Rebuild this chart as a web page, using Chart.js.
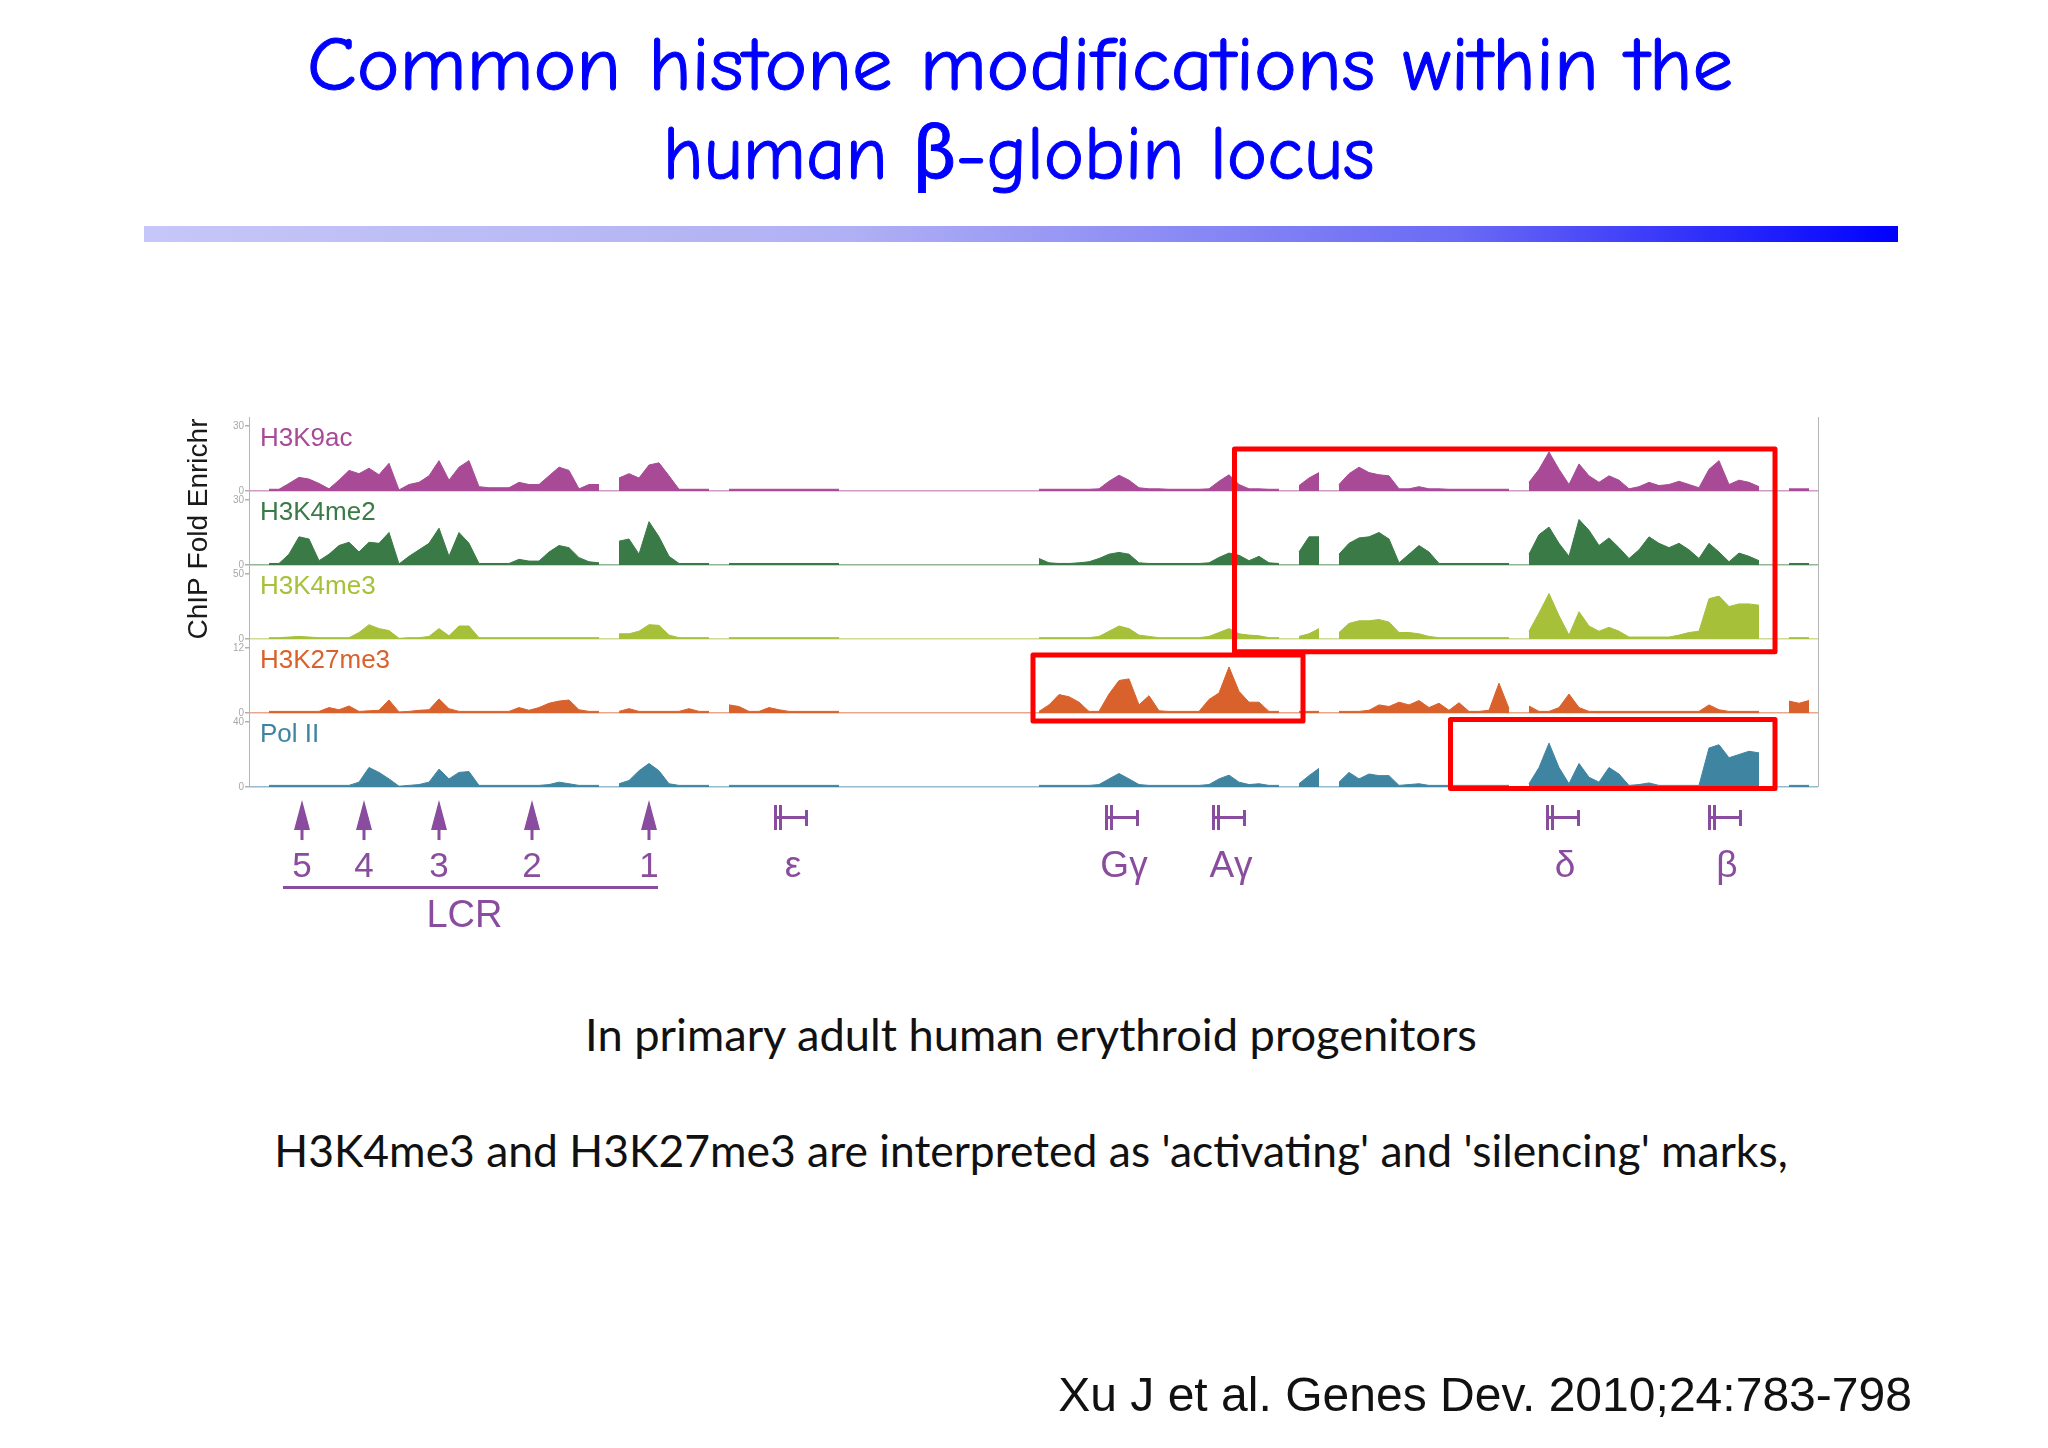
<!DOCTYPE html>
<html>
<head>
<meta charset="utf-8">
<script src="https://cdn.jsdelivr.net/npm/chart.js@4.4.1/dist/chart.umd.min.js"></script>
<style>
  html, body { margin: 0; padding: 0; background: #fff; }
  body { width: 2048px; height: 1448px; position: relative; overflow: hidden; }
  .txt { position: absolute; left: 0; width: 2048px; text-align: center; line-height: 1; white-space: nowrap; transform: translateY(-50%); }
  .txt span { display: inline-block; }
  .title { font-family: "Comic Sans MS", "Comic Neue", Lato, sans-serif; font-size: 77px; color: #0000ff; -webkit-text-stroke: 1px #0000ff; }
  .body { font-family: Lato, "Open Sans", sans-serif; font-size: 40px; color: #111; }
  .cite { font-family: "Liberation Sans", Arial, sans-serif; font-size: 48px; color: #111; text-align: right; width: 1912px; }
  .bar { position: absolute; left: 144px; top: 226px; width: 1754px; height: 16px;
         background: linear-gradient(to right, #c6c6f7 0%, #b0b0f4 40%, #6a6af5 75%, #0000ff 100%); }
  #tracks { position: absolute; left: 0; top: 380px; }
</style>
</head>
<body>
<div class="txt title" data-w="1426" data-fit="stretch" style="top:65px;left:-4px"><span>Common histone modifications within the</span></div>
<div class="txt title" data-w="712" data-fit="stretch" style="top:154px;left:-5px"><span>human β-globin locus</span></div>
<div class="bar"></div>
<canvas id="tracks" width="2048" height="600"></canvas>
<div class="txt body" data-w="892" style="top:1034px;left:7px"><span>In primary adult human erythroid progenitors</span></div>
<div class="txt body" data-w="1514" style="top:1150px;left:7px"><span>H3K4me3 and H3K27me3 are interpreted as 'activating' and 'silencing' marks,</span></div>
<div class="txt cite" data-w="854" style="top:1395px"><span>Xu J et al. Genes Dev. 2010;24:783-798</span></div>

<script>
// ChIP profiles, one value per 10 px bin along the locus (null = no data)
const tracks = ['H3K9ac', 'H3K4me2', 'H3K4me3', 'H3K27me3', 'Pol II'];
const trackMax = [30, 30, 50, 12, 40];
const trackColors = ['#a84a96', '#3a7a46', '#a6c03a', '#d9612b', '#3f84a0'];

const h3k9ac = [
  null, null, 0.8, 0.8, 3.5, 6.3, 5.5, 3.5, 1, 5,
  9.5, 8, 10.5, 7.5, 12.8, 0.5, 3, 4, 7, 14,
  5, 11, 14, 2, 1.5, 1.5, 1.5, 4, 3, 3,
  7, 11, 9.5, 1, 3, 3, null, 6, 8, 6,
  12, 13, 7, 0.8, 0.8, 0.8, 0.8, null, 0.8, 0.8,
  0.8, 0.8, 0.8, 0.8, 0.8, 0.8, 0.8, 0.8, 0.8, 0.8,
  null, null, null, null, null, null, null, null, null, null,
  null, null, null, null, null, null, null, null, null, 0.8,
  0.8, 0.8, 0.8, 0.8, 0.8, 1, 4.5, 7.3, 5, 1.5,
  1, 1, 0.8, 0.8, 0.8, 0.8, 1, 4.5, 7.5, 3,
  1, 1, 0.8, 0.8, null, 2.5, 6, 8.5, null, 3,
  8, 11, 8.5, 7.5, 7, 1, 1, 2, 1, 1,
  0.8, 0.8, 0.8, 0.8, 0.8, 0.8, 0.8, null, 4, 10,
  18, 10, 3, 12.5, 7, 4, 7, 5, 1, 2,
  4, 2.5, 3, 4.5, 3, 1.5, 10, 14, 3, 5,
  4, 2, null, null, 1, 1, 1
];
const h3k4me2 = [
  null, null, 0.7, 0.7, 5, 13, 12, 2, 5, 9,
  10.5, 6, 10.5, 10, 15, 0.5, 4, 7, 10, 17,
  4, 15, 10, 0.7, 0.7, 0.7, 0.7, 2.6, 1.8, 1.8,
  6, 9, 8, 3.4, 1.5, 1, null, 11, 12, 5,
  20, 13, 4, 0.7, 0.7, 0.7, 0.7, null, 0.7, 0.7,
  0.7, 0.7, 0.7, 0.7, 0.7, 0.7, 0.7, 0.7, 0.7, 0.7,
  null, null, null, null, null, null, null, null, null, null,
  null, null, null, null, null, null, null, null, null, 3,
  1, 0.7, 0.7, 1, 1.5, 3, 5, 5.8, 5, 1,
  0.7, 0.7, 0.7, 0.7, 0.7, 0.7, 1, 3.5, 5.5, 4.5,
  2, 4, 1, 0.7, null, 6, 13, 13, null, 5,
  10, 12.5, 13, 15, 12, 1, 5, 9, 6, 0.7,
  0.7, 0.7, 0.7, 0.7, 0.7, 0.7, 0.7, null, 5, 14,
  17.5, 10, 4, 21, 16, 9, 12.5, 8, 3, 7,
  13, 10, 8, 10, 7, 3, 10, 6, 1.5, 5.5,
  4, 2, null, null, 0.7, 0.7, 0.7
];
const h3k4me3 = [
  null, null, 1, 1, 1.5, 2, 1.5, 1, 1, 1,
  1, 5, 11, 8, 6.5, 0.5, 1, 1, 2, 8,
  2.5, 10, 10, 1, 1, 1, 1, 1, 1, 1,
  1, 1, 1, 1, 1, 1, null, 4, 4, 6,
  11, 10.5, 3, 1, 1, 1, 1, null, 1, 1,
  1, 1, 1, 1, 1, 1, 1, 1, 1, 1,
  null, null, null, null, null, null, null, null, null, null,
  null, null, null, null, null, null, null, null, null, 1,
  1, 1, 1, 1, 1, 2, 6, 10, 8, 3,
  2, 1, 1, 1, 1, 1, 2, 5, 8, 4,
  3, 2.5, 1, 1, null, 2, 4, 8, null, 5,
  12, 14, 14, 15, 13, 5, 5, 4, 2, 1,
  1, 1, 1, 1, 1, 1, 1, null, 6, 20,
  35, 18, 3, 21, 10, 6, 9, 6, 1.5, 1.5,
  1.5, 1.5, 1.5, 3, 5, 6, 31, 33, 25, 27,
  27, 26, null, null, 1, 1, 1
];
const h3k27me3 = [
  null, null, 0.3, 0.3, 0.3, 0.3, 0.3, 0.3, 1, 0.6,
  1.3, 0.3, 0.4, 0.5, 2.4, 0.2, 0.3, 0.5, 0.6, 2.6,
  0.8, 0.3, 0.3, 0.3, 0.3, 0.3, 0.3, 1, 0.5, 1,
  1.8, 2.2, 2.4, 0.6, 0.3, 0.3, null, 0.3, 0.8, 0.3,
  0.3, 0.3, 0.3, 0.3, 0.8, 0.3, 0.3, null, 1.5, 1.2,
  0.3, 0.3, 1, 0.6, 0.3, 0.3, 0.3, 0.3, 0.3, 0.3,
  null, null, null, null, null, null, null, null, null, null,
  null, null, null, null, null, null, null, null, null, 0.3,
  1.5, 3.4, 3, 2, 0.3, 0.3, 3.5, 6, 6.3, 1.5,
  3.2, 0.4, 0.3, 0.3, 0.3, 0.3, 2.5, 3.7, 8.5, 4,
  2, 2, 0.3, 0.3, null, 0.3, 0.3, 0.3, null, 0.3,
  0.3, 0.3, 0.5, 1.5, 1.2, 2, 1.5, 2.3, 1, 1.8,
  0.5, 1.9, 0.3, 0.3, 0.5, 5.5, 0.8, null, 1.3, 0.3,
  0.3, 1, 3.5, 1, 0.3, 0.3, 0.3, 0.3, 0.3, 0.3,
  0.3, 0.3, 0.3, 0.3, 0.3, 0.3, 1.5, 0.6, 0.3, 0.3,
  0.3, 0.3, null, null, 2.2, 1.8, 2.3
];
const polII = [
  null, null, 1, 1, 1, 1, 1, 1, 1, 1,
  1, 3, 12, 9, 5, 0.5, 1, 1.5, 3, 11,
  5, 9, 9.5, 1, 1, 1, 1, 1, 1, 1,
  1.5, 3, 2, 1, 1, 1, null, 2, 4, 10,
  14.5, 10, 2, 1, 1, 1, 1, null, 1, 1,
  1, 1, 1, 1, 1, 1, 1, 1, 1, 1,
  null, null, null, null, null, null, null, null, null, null,
  null, null, null, null, null, null, null, null, null, 1,
  1, 1, 1, 1, 1, 1.5, 5, 8.3, 5, 1.5,
  1, 1, 1, 1, 1, 1, 1.5, 5, 7.3, 3,
  1.5, 2, 1, 1, null, 2, 7, 11.5, null, 3,
  9, 5, 8, 7, 7, 1, 1.5, 2, 1, 1,
  1, 1, 1, 1, 1, 1, 1, null, 2, 12,
  27, 12, 2, 14.5, 6, 3, 12, 8, 1, 1.5,
  2.5, 1, 1, 1, 1, 1, 24, 26, 18, 20,
  22, 21, null, null, 1, 1, 1
];

// annotations along the same bin axis
const hsLabels = ['5', '4', '3', '2', '1'];
const hsPos = [5.3, 11.5, 19, 28.3, 40];
const lcrSpan = [3.4, 40.9];
const geneLabels = ['ε', 'Gγ', 'Aγ', 'δ', 'β'];
const genePos = [54.2, 87.3, 98, 131.4, 147.6];
// highlighted regions: bin range, top and bottom as [track, value]
const boxes = [
  { from: 98.55, to: 152.6, top: [0, 19.4], bottom: [3, 11.3] },
  { from: 78.4, to: 105.4, top: [3, 10.7], bottom: [4, 40.6] },
  { from: 120.15, to: 152.6, top: [4, 41.5], bottom: [4, -0.9] }
];

const FONT = '"Liberation Sans", Arial, sans-serif';
const PURPLE = '#8a4c9e';
const series = [h3k9ac, h3k4me2, h3k4me3, h3k27me3, polII];

function fade(hex, a) {
  const n = parseInt(hex.slice(1), 16);
  return `rgba(${n >> 16}, ${(n >> 8) & 255}, ${n & 255}, ${a})`;
}

// stacked left axes: the one defined last ends up on top, so go bottom-up
const scales = { x: { type: 'linear', min: 0, max: 156.9, display: false } };
for (let i = series.length - 1; i >= 0; i--) {
  scales['y' + i] = {
    type: 'linear',
    position: 'left',
    stack: 'tracks',
    stackWeight: 1,
    min: 0,
    max: trackMax[i] * 74 / 65,
    afterBuildTicks: s => { s.ticks = [{ value: 0 }, { value: trackMax[i] }]; },
    afterFit: s => { s.width = 20; },
    grid: {
      color: c => (c.tick && c.tick.value === 0) ? fade(trackColors[i], 0.55) : 'rgba(0,0,0,0)',
      lineWidth: 1.5,
      tickLength: 4,
      tickColor: '#b0b0b0'
    },
    border: { display: true, color: '#b5b5b5', width: 1 },
    ticks: { font: { family: FONT, size: 10 }, color: '#a8a8a8', padding: 1, autoSkip: false }
  };
}

const overlay = {
  id: 'overlay',
  afterDatasetsDraw(chart) {
    const ctx = chart.ctx;
    const x = chart.scales.x;
    const area = chart.chartArea;
    const yOf = (t, v) => chart.scales['y' + t].getPixelForValue(v);
    ctx.save();

    // right frame
    ctx.strokeStyle = '#b5b5b5';
    ctx.lineWidth = 1;
    ctx.beginPath();
    ctx.moveTo(area.right + 0.5, area.top);
    ctx.lineTo(area.right + 0.5, area.bottom);
    ctx.stroke();

    // track names
    ctx.font = '26px ' + FONT;
    ctx.textAlign = 'left';
    ctx.textBaseline = 'alphabetic';
    tracks.forEach((name, i) => {
      ctx.fillStyle = trackColors[i];
      ctx.fillText(name, area.left + 11, chart.scales['y' + i].top + 29);
    });

    // y axis title
    ctx.save();
    ctx.translate(199, 149);
    ctx.rotate(-Math.PI / 2);
    ctx.font = '28px ' + FONT;
    ctx.fillStyle = '#1a1a1a';
    ctx.textAlign = 'center';
    ctx.textBaseline = 'middle';
    ctx.fillText('ChIP Fold Enrichr', 0, 0);
    ctx.restore();

    // highlighted regions
    ctx.strokeStyle = '#ff0000';
    ctx.lineWidth = 5;
    ctx.lineJoin = 'round';
    boxes.forEach(b => {
      const x0 = x.getPixelForValue(b.from), x1 = x.getPixelForValue(b.to);
      const y0 = yOf(b.top[0], b.top[1]), y1 = yOf(b.bottom[0], b.bottom[1]);
      ctx.strokeRect(x0, y0, x1 - x0, y1 - y0);
    });

    // LCR hypersensitive sites
    const base = area.bottom;
    ctx.fillStyle = PURPLE;
    ctx.textAlign = 'center';
    ctx.font = '35px ' + FONT;
    hsPos.forEach((p, i) => {
      const cx = x.getPixelForValue(p);
      ctx.beginPath();
      ctx.moveTo(cx, base + 13);
      ctx.lineTo(cx + 8, base + 43);
      ctx.lineTo(cx - 8, base + 43);
      ctx.closePath();
      ctx.fill();
      ctx.fillRect(cx - 1.5, base + 40, 3, 13);
      ctx.fillText(hsLabels[i], cx, base + 90);
    });
    const l0 = x.getPixelForValue(lcrSpan[0]), l1 = x.getPixelForValue(lcrSpan[1]);
    ctx.fillRect(l0, base + 99, l1 - l0, 3);
    ctx.font = '38px ' + FONT;
    ctx.fillText('LCR', (l0 + l1) / 2 - 6, base + 140);

    // globin genes
    ctx.font = '37px ' + FONT;
    genePos.forEach((p, i) => {
      const cx = x.getPixelForValue(p);
      ctx.fillRect(cx - 17, base + 18, 3, 25);
      ctx.fillRect(cx - 12, base + 18, 3, 25);
      ctx.fillRect(cx - 17, base + 29, 34, 3);
      ctx.fillRect(cx + 14, base + 23, 3, 16);
      ctx.fillText(geneLabels[i], cx + 2, base + 90);
    });
    ctx.restore();
  }
};

new Chart(document.getElementById('tracks'), {
  type: 'line',
  data: {
    datasets: series.map((vals, i) => ({
      label: tracks[i],
      data: vals.map((v, k) => ({ x: k, y: v })),
      yAxisID: 'y' + i,
      borderColor: trackColors[i],
      backgroundColor: trackColors[i],
      borderWidth: 1,
      pointRadius: 0,
      tension: 0,
      fill: 'origin',
      spanGaps: false
    }))
  },
  options: {
    responsive: false,
    animation: false,
    events: [],
    layout: { padding: { left: 229, right: 230, top: 37, bottom: 193 } },
    plugins: { legend: { display: false }, tooltip: { enabled: false } },
    scales: scales
  },
  plugins: [overlay]
});

// fit slide texts to the widths they have in the original
document.querySelectorAll('[data-w]').forEach(el => {
  const span = el.querySelector('span');
  const k = Number(el.dataset.w) / span.getBoundingClientRect().width;
  if (el.dataset.fit === 'stretch') {
    span.style.transform = 'scaleX(' + k + ')';
  } else {
    el.style.fontSize = parseFloat(getComputedStyle(el).fontSize) * k + 'px';
  }
});
</script>
</body>
</html>
